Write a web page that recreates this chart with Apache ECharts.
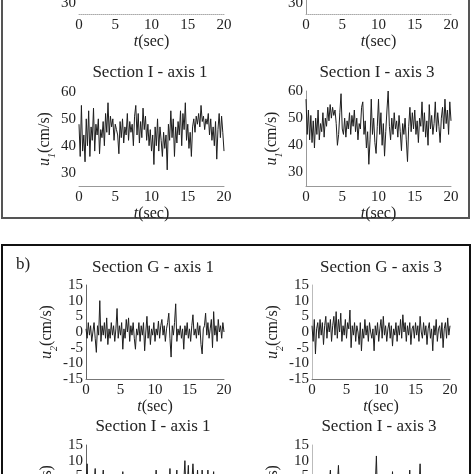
<!DOCTYPE html>
<html>
<head>
<meta charset="utf-8">
<script src="https://cdn.jsdelivr.net/npm/echarts/dist/echarts.min.js"></script>
<style>
  html, body { margin: 0; padding: 0; background: #fff; }
  #chart { width: 474px; height: 474px; }
</style>
</head>
<body>
<div id="chart"></div>
<script>
// time axis 0..20 s, samples equally spaced
const T_END = 20;

// a) Section I - u1 (cm/s)
const u1SectionIAxis1 = [48,36,55,38, 44,34,50,40,53,36, 47,42,54,38,48,44, 50,37,46,43,49,40, 52,45,56,44,51,47,
  50,42,48,46,44,37, 49,43,50,41,47,44, 52,42,49,45,48,40, 51,55,44,52,41,49, 43,54,46,51,42,48,
  40,46,38,44,33,47, 40,50,38,47,42,36, 45,39,44,31,48,42, 53,43,50,36,47,41, 49,44,53,40,52,46,
  56,42,48,39,45,36, 47,50,45,51,48,52, 47,55,49,51,46,50, 48,52,44,50,42,47, 40,49,35,46,52,43, 51,45,38];
const u1SectionIAxis3 = [57,44,53,42, 51,41,49,39,50,44, 53,42,48,45,52,43, 50,47,54,49,55,50, 54,51,53,48,40,44,
  52,59,46,44,50,43, 49,46,52,44,51,47, 53,45,50,42,48,46, 54,56,44,49,39,45, 33,42,57,44,50,41,
  37,47,57,44,52,40, 48,36,45,53,60,47, 42,50,44,52,46,49, 43,51,45,38,48,44, 50,42,34,47,54,45,
  52,46,53,44,49,41, 50,47,56,45,52,43, 49,40,55,46,51,44, 48,56,45,52,47,41, 50,54,46,57,48,53, 44,56,49];

// b) u2 (cm/s)
const u2SectionGAxis1 = [1,-2,3,-1,2,-3, 0,3,-2,-6.5,2,-1, 10,-3,2,-1,3,-2, 4.5,-4,1,-2,3,-1, 2,-3,1,7.5,-2,2,
  -1,3,-5.5,1,-2,4, 0,4.5,-3,2,-1,3, -2,-5.5,1,-1,3,-3, 2,-1,3,-6,0,5, -2,2,-4,1,-1,3,
  -3,1,-1,3.5,-2,2, 4,-1,2,-3,1,3, 6,-2,-8,2,-1,3, 9,-3,1,-1,2,-2, 1,-5.5,2,-1,3,-2,
  1,-3,2,5.5,-1,1, -2,3,-1,2,-4,-7, 1,2,6,-1,3,-2, 1,4,-5,6.5,-1,2, -3,4,0,2,-2,3, 0];
const u2SectionGAxis3 = [2,-3,4,-7,1,3, -2,4,-1,3,-4,2, 5,-2,3,0,4,-3, 2,5,-1,6.5,-2,4, 0,6,-3,2,-1,4,
  -2,3,1,7,-5,2, -1,3,-3,2,0,-4, 3,-6,1,-2,4,-1, 2,-3,3,0,-2,1, -6,2,-1,3,-3,1,
  4,-2,5,-1,2,-3, 1,3,-2,2,-4.5,1, -1,3,-3,2,-1,4, -2,5.5,0,3,-3,2, -1,3,-4,1,2,-2,
  3,-1,2,-3,5,0, -2,3,-1,2,-4,1, 3,-2,1,-6,2,-1, 4,-3,1,2,-2,3, -5,1,3,-2,4.5,-1, 2];
const u2SectionIAxis1 = [2,9,-3,1,-2,3, -1,2,7.5,-3,1,-2, 3,-1,2,7,-2,1, -3,2,0,-2,3,-1, 1,-3,2,0,-1,3,
  -2,1,6.5,-1,2,-3, 1,-2,3,-1,0,2, -3,1,2,-1,3,-2, 0,2,-1,3,-2,1, -1,3,-2,0,2,-3,
  1,7,-2,3,-1,2, -3,1,2,-2,0,3, -1,7.5,-2,1,3,-1, 2,7,-3,1,-1,2, -2,3,10,-1,2,8.5,
  -2,1,3,9,2,-3, 1,7,-2,3,-1,7, -2,1,3,-1,7,-2, 2,-1,3,6.5,-2,1, -3,2,0,3,-1,2, -2];
const u2SectionIAxis3 = [1,-2,3,-1,2,-3, 0,2,-2,3,-1,1, -3,2,0,3,7,-2, 1,-1,3,-2,2,8.5, -1,2,-3,1,3,-2,
  0,2,-1,3,-2,1, -3,2,0,-1,3,-2, 1,-2,2,0,3,-1, 2,-3,1,-1,3,-2, 1,2,11.5,-3,2,-1,
  3,-2,1,-1,2,0, -3,2,1,-1,6.5,-2, 2,-1,3,-2,1,0, -1,3,-2,1,2,-3, 1,7,-1,2,-2,3,
  -1,2,-3,1,9,-2, 2,-1,3,-2,1,0, -2,3,-1,2,-3,1, 2,-1,3,-2,1,-1, 2,-3,1,3,-1,2, 0];

const FONT = "Liberation Serif";
const TXT = "#222";

const toPairs = (arr) => arr.map((v, i) => [i * T_END / (arr.length - 1), v]);

// plots: grid rect, y range, which data, axis line colours
const plots = [
  { left: 79, top: -63, width: 145, height: 77, min: 25, max: 60, data: [], sub: "", yLine: null, xLine: "#aaa", xType: "dotted", yGap: 15, tens: true },
  { left: 306, top: -63, width: 145, height: 77, min: 25, max: 60, data: [], sub: "", yLine: "#999", xLine: "#aaa", xType: "dotted", yGap: 15, tens: true },
  { left: 79, top: 92, width: 145, height: 94, min: 25, max: 60, data: u1SectionIAxis1, sub: "1", yLine: null, xLine: "#999", xType: "solid", yGap: 15, tens: true },
  { left: 306, top: 91, width: 145, height: 95, min: 25, max: 60, data: u1SectionIAxis3, sub: "1", yLine: "#999", xLine: "#999", xType: "solid", yGap: 15, tens: true },
  { left: 86, top: 285, width: 138, height: 94, min: -15, max: 15, data: u2SectionGAxis1, sub: "2", yLine: "#666", xLine: "#777", xType: "solid", yGap: 27, tens: false },
  { left: 312, top: 285, width: 138, height: 94, min: -15, max: 15, data: u2SectionGAxis3, sub: "2", yLine: "#bbb", xLine: "#777", xType: "solid", yGap: 27, tens: false },
  { left: 86, top: 445, width: 138, height: 94, min: -15, max: 15, data: u2SectionIAxis1, sub: "2", yLine: "#666", xLine: "#777", xType: "solid", yGap: 27, tens: false },
  { left: 312, top: 445, width: 138, height: 94, min: -15, max: 15, data: u2SectionIAxis3, sub: "2", yLine: "#bbb", xLine: "#777", xType: "solid", yGap: 27, tens: false },
];

const titles = [
  { text: "Section I - axis 1", x: 150, y: 73 },
  { text: "Section I - axis 3", x: 377, y: 73 },
  { text: "Section G - axis 1", x: 153, y: 268 },
  { text: "Section G - axis 3", x: 381, y: 268 },
  { text: "Section I - axis 1", x: 153, y: 427 },
  { text: "Section I - axis 3", x: 379, y: 427 },
];

const grid = plots.map((p) => ({
  left: p.left, top: p.top, width: p.width, height: p.height,
  containLabel: false,
  outerBoundsMode: "none",
}));

const xAxis = plots.map((p, i) => ({
  gridIndex: i,
  type: "value",
  min: 0,
  max: T_END,
  interval: 5,
  axisLine: { show: true, onZero: false, lineStyle: { color: p.xLine, width: 1, type: p.xType } },
  axisTick: { show: false },
  splitLine: { show: false },
  axisLabel: { color: TXT, fontFamily: FONT, fontSize: 15, margin: 4 },
  name: "{i|t}(sec)",
  nameLocation: "middle",
  nameGap: 11,
  nameTextStyle: {
    color: TXT, fontFamily: FONT, fontSize: 16,
    rich: { i: { color: TXT, fontFamily: FONT, fontSize: 16, fontStyle: "italic" } },
  },
}));

const yAxis = plots.map((p, i) => ({
  gridIndex: i,
  type: "value",
  min: p.min,
  max: p.max,
  interval: 5,
  axisLine: { show: !!p.yLine, lineStyle: { color: p.yLine || "#fff", width: 1 } },
  axisTick: { show: false },
  splitLine: { show: false },
  axisLabel: {
    color: TXT, fontFamily: FONT, fontSize: 15, margin: 3,
    formatter: (v) => (p.tens && v % 10 !== 0 ? "" : String(v)),
  },
  // top row of panel a) is cut off above the picture, its axis name is not in view
  name: p.sub ? "{u|u}{s|" + p.sub + "}(cm/s)" : "",
  nameLocation: "middle",
  nameRotate: 90,
  nameGap: p.yGap,
  nameTextStyle: {
    color: TXT, fontFamily: FONT, fontSize: 16, lineHeight: 18,
    rich: {
      u: { color: TXT, fontFamily: FONT, fontSize: 16, fontStyle: "italic", lineHeight: 18 },
      s: { color: TXT, fontFamily: FONT, fontSize: 10, fontStyle: "italic", lineHeight: 24, verticalAlign: "bottom" },
    },
  },
}));

const series = plots.map((p, i) => ({
  type: "line",
  xAxisIndex: i,
  yAxisIndex: i,
  data: toPairs(p.data),
  showSymbol: false,
  lineStyle: { color: "#1e1e1e", width: 1 },
  animation: false,
}));

const graphic = [
  // frames of panel a) and panel b)
  { type: "rect", shape: { x: 2, y: -10, width: 467, height: 228 }, style: { fill: "none", stroke: "#555", lineWidth: 2 } },
  { type: "rect", shape: { x: 2, y: 245, width: 468, height: 240 }, style: { fill: "none", stroke: "#111", lineWidth: 2 } },
  { type: "text", x: 23, y: 265, style: { text: "b)", fill: TXT, font: "17px " + FONT, textAlign: "center", textVerticalAlign: "middle" } },
].concat(titles.map((t) => ({
  type: "text", x: t.x, y: t.y,
  style: { text: t.text, fill: TXT, font: "17px " + FONT, textAlign: "center", textVerticalAlign: "middle" },
})));

const chart = echarts.init(document.getElementById("chart"), null, { renderer: "canvas" });
chart.setOption({
  animation: false,
  backgroundColor: "#fff",
  grid,
  xAxis,
  yAxis,
  series,
  graphic,
});
</script>
</body>
</html>
